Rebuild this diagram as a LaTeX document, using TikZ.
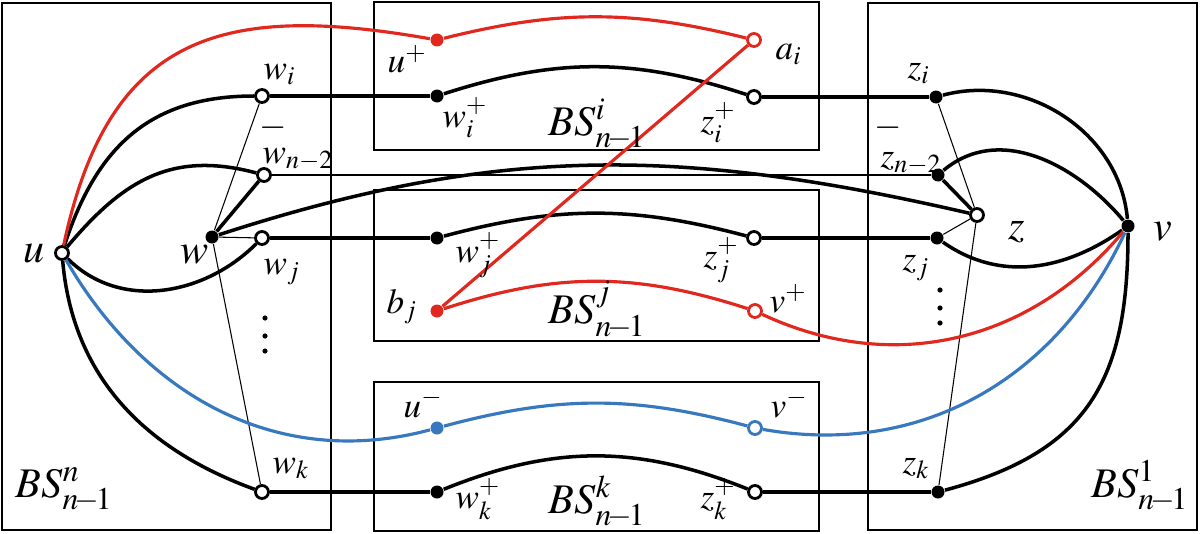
\documentclass[tikz,border=0pt]{standalone}
\usepackage{amsmath}
\usepackage{mathptmx}
\usepackage{xcolor}
\usepackage{tikz}
\usetikzlibrary{positioning, calc, arrows.meta}

\begin{document}
\begin{tikzpicture}[x=0.1mm, y=0.1mm,
    openpt/.style={circle, draw, fill=white, line width=0.8pt, inner sep=0pt, minimum size=1.3mm},
    fullpt/.style={circle, fill, inner sep=0pt, minimum size=1.3mm},
    edge/.style={line width=1pt},
    thinline/.style={line width=0.3pt},
    colorline/.style={line width=0.9pt},
    box/.style={line width=0.55pt},
    lbl/.style={anchor=base west, inner sep=0pt},
    biglbl/.style={anchor=base west, inner sep=0pt, font=\large}]
    % Định nghĩa màu sắc
    \definecolor{myred}{RGB}{225, 40, 30}
    \definecolor{myblue}{RGB}{55, 120, 190}

    \useasboundingbox (0,0) rectangle (1200,533);

    % 1. Vẽ 5 khung BS
    \draw[box] (2,3) rectangle (331,530);
    \draw[box] (374,383) rectangle (819,531);
    \draw[box] (374,192) rectangle (819,343);
    \draw[box] (374,2) rectangle (819,151);
    \draw[box] (868,3) rectangle (1197,530);

    % 2. Các đỉnh trong khung trái
    \node[openpt] (u) at (62,280) {};
    \node[fullpt] (w) at (212,296) {};
    \node[openpt] (wi) at (262,437) {};
    \node[openpt] (wn) at (264,358) {};
    \node[openpt] (wj) at (262,295) {};
    \node[openpt] (wk) at (262,41) {};

    % 3. Các đỉnh trong ba khung giữa
    \node[fullpt, myred] (up) at (437,493) {};
    \node[openpt, draw=myred] (ai) at (754,493) {};
    \node[fullpt] (wip) at (437,437) {};
    \node[openpt] (zip) at (754,436) {};
    \node[fullpt] (wjp) at (437,295) {};
    \node[openpt] (zjp) at (754,295) {};
    \node[fullpt, myred] (bj) at (437,222) {};
    \node[openpt, draw=myred] (vp) at (755,222) {};
    \node[fullpt, myblue] (um) at (437,105) {};
    \node[openpt, draw=myblue] (vm) at (755,105) {};
    \node[fullpt] (wkp) at (437,41) {};
    \node[openpt] (zkp) at (755,41) {};

    % 4. Các đỉnh trong khung phải
    \node[fullpt] (zi) at (936,436) {};
    \node[fullpt] (zn) at (938,358) {};
    \node[openpt] (z) at (977,318) {};
    \node[fullpt] (zj) at (937,295) {};
    \node[fullpt] (zk) at (938,41) {};
    \node[fullpt] (v) at (1128,307) {};

    % 5. Các cạnh đen
    \draw[edge] (wi) -- (wip);
    \draw[edge] (wip) to[bend left=18] (zip);
    \draw[edge] (zip) -- (zi);
    \draw[edge] (wj) -- (wjp);
    \draw[edge] (wjp) to[bend left=15] (zjp);
    \draw[edge] (zjp) -- (zj);
    \draw[edge] (wk) -- (wkp);
    \draw[edge] (wkp) to[bend left=22] (zkp);
    \draw[edge] (zkp) -- (zk);

    \draw[edge] (u) to[out=72, in=180, looseness=1.1] (wi);
    \draw[edge] (u) to[out=50, in=165, looseness=1.1] (wn);
    \draw[edge] (u) to[out=-45, in=-135] (wj);
    \draw[edge] (u) to[out=-85, in=160] (wk);
    \draw[edge] (w) -- (wn);
    \draw[edge] (w) to[out=18, in=167] (z);
    \draw[edge] (z) -- (zn);

    \draw[edge] (zi) to[out=15, in=95] (v);
    \draw[edge] (zn) to[out=40, in=130] (v);
    \draw[edge] (zj) to[out=-35, in=-145] (v);
    \draw[edge] (zk) to[out=15, in=-90, looseness=1.2] (v);

    % 6. Các cạnh mảnh
    \foreach \t in {wi, wj, wk} {
        \draw[thinline] (w) -- (\t);
    }
    \foreach \t in {zi, zj, zk} {
        \draw[thinline] (z) -- (\t);
    }
    \draw[thinline] (wn) -- (zn);

    % 7. Đường đỏ và đường xanh
    \draw[colorline, myred] (u) to[out=78, in=170, looseness=1.3] (up);
    \draw[colorline, myred] (up) to[bend left=14] (ai);
    \draw[colorline, myred] (ai) -- (bj);
    \draw[colorline, myred] (bj) to[bend left=18] (vp);
    \draw[colorline, myred] (vp) to[out=-25, in=-130] (v);

    \draw[colorline, myblue] (u) to[out=-60, in=-165] (um);
    \draw[colorline, myblue] (um) to[bend left=15] (vm);
    \draw[colorline, myblue] (vm) to[out=-10, in=-115] (v);

    % 8. Dấu chấm lửng
    \foreach \y in {215,197,182} {
        \fill (265,\y) circle (2.6);
        \fill (940,\y+28) circle (2.6);
    }

    % 9. Nhãn
    \node[biglbl] (Lu) at (23,271) {$u$};
    \node[biglbl] (Lw) at (180,270) {$w$};
    \node[lbl] (Lwi) at (263,454) {$w_i$};
    \node[lbl] (Lwn) at (262,370) {$w_{n-2}$};
    \node[lbl] (Lwj) at (263,259) {$w_j$};
    \node[lbl] (Lwk) at (272,60) {$w_k$};
    \node[biglbl] (LBSn) at (15,36) {$BS^n_{n\mkern-2mu-\mkern-2mu1}$};
    \node (barw) at (273,405) {$-$};

    \node[lbl] (Lup) at (387,460) {$u^+$};
    \node[lbl] (Lai) at (775,474) {$a_i$};
    \node[lbl] (Lwip) at (442,406) {$w_i^+$};
    \node[biglbl] (LBSi) at (548,398) {$BS^i_{n\mkern-2mu-\mkern-2mu1}$};
    \node[lbl] (Lzip) at (700,401) {$z_i^+$};
    \node[lbl] (Lwjp) at (455,271) {$w_j^+$};
    \node[lbl] (Lzjp) at (703,266) {$z_j^+$};
    \node[lbl] (Lbj) at (386,220) {$b_j$};
    \node[biglbl] (LBSj) at (548,210) {$BS^j_{n\mkern-2mu-\mkern-2mu1}$};
    \node[lbl] (Lvp) at (769,221) {$v^+$};
    \node[lbl] (Lum) at (403,116) {$u^-$};
    \node[lbl] (Lvm) at (770,116) {$v^-$};
    \node[lbl] (Lwkp) at (455,25) {$w_k^+$};
    \node[biglbl] (LBSk) at (548,20) {$BS^k_{n\mkern-2mu-\mkern-2mu1}$};
    \node[lbl] (Lzkp) at (700,25) {$z_k^+$};

    \node[lbl] (Lzi) at (907,455) {$z_i$};
    \node[lbl] (Lzn) at (880,366) {$z_{n-2}$};
    \node (barz) at (888,405) {$-$};
    \node[biglbl] (Lz) at (1008,294) {$z$};
    \node[biglbl] (Lv) at (1153,293) {$v$};
    \node[lbl] (Lzj) at (902,263) {$z_j$};
    \node[lbl] (Lzk) at (902,60) {$z_k$};
    \node[biglbl, anchor=base east] (LBS1) at (1190,36) {$BS^1_{n\mkern-2mu-\mkern-2mu1}$};

\end{tikzpicture}
\end{document}
